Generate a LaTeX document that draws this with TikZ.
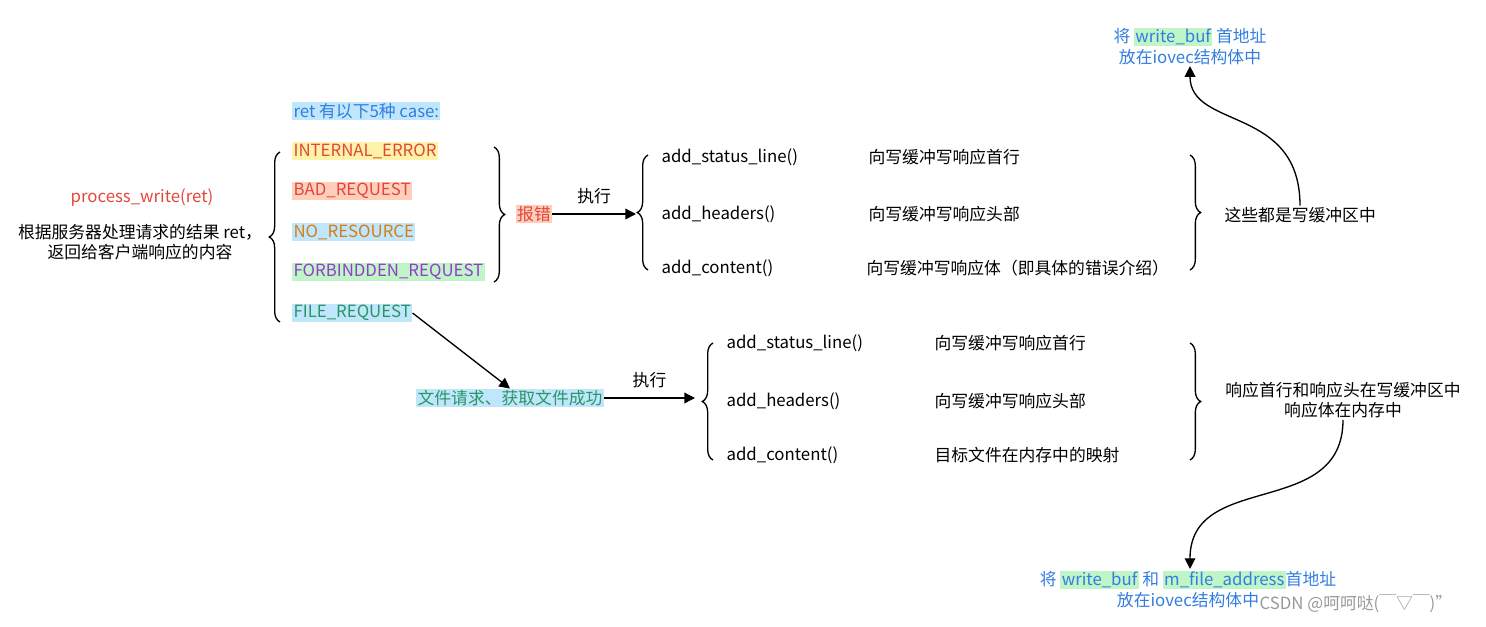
\documentclass[tikz,border=0pt]{standalone}
\usepackage{fontspec}
\setmainfont{Noto Sans CJK SC}
\usetikzlibrary{positioning}
\usetikzlibrary{arrows.meta}
\usetikzlibrary{decorations.pathreplacing}
\definecolor{tred}{RGB}{226,70,60}
\definecolor{tblue}{RGB}{50,125,225}
\definecolor{torange}{RGB}{214,125,20}
\definecolor{tpurple}{RGB}{150,60,205}
\definecolor{tgreen}{RGB}{40,150,100}
\definecolor{hyellow}{RGB}{255,243,170}
\definecolor{hsalmon}{RGB}{255,207,188}
\definecolor{hblue}{RGB}{192,230,252}
\definecolor{hgreen}{RGB}{192,245,200}
\tikzset{basic/.style={font=\fontsize{12.6}{15.5}\selectfont,inner sep=1pt}}
\tikzset{tag/.style={basic,anchor=west}}
\tikzset{note/.style={basic,align=center}}
\tikzset{flow/.style={draw,line width=1pt,-{Triangle[length=8pt,width=8pt]}}}
\tikzset{bracket/.style={draw,line width=1pt,decorate,decoration={brace,amplitude=8pt}}}
\newcommand{\hl}[2]{{\setlength{\fboxsep}{1pt}\colorbox{#1}{#2}}}
\begin{document}
\begin{tikzpicture}[x=0.75pt,y=-0.75pt]
                \useasboundingbox (0,0) rectangle (1486,626);
                % left: function and the five cases
                \node[note,text=tred] (func) at (142,198) {process\_write(ret)};
                \node[note] (desc) at (140,242) {根据服务器处理请求的结果 ret，\\返回给客户端响应的内容};
                \node[tag,fill=hblue,text=tblue] (cases) at (292,111) {ret 有以下5种 case:};
                \node[tag,fill=hyellow,text=tred] (c1) at (292,151) {INTERNAL\_ERROR};
                \node[tag,fill=hsalmon,text=tred] (c2) at (292,191) {BAD\_REQUEST};
                \node[tag,fill=hblue,text=torange] (c3) at (292,232) {NO\_RESOURCE};
                \node[tag,fill=hgreen,text=tpurple] (c4) at (292,272) {FORBINDDEN\_REQUEST};
                \node[tag,fill=hblue,text=tgreen] (c5) at (292,313) {FILE\_REQUEST};
                \path[bracket] (280,322) -- (280,152);
                \path[bracket] (494,147) -- (494,282);
                % error branch
                \node[basic,fill=hsalmon,text=tred] (err) at (534,214) {报错};
                \coordinate (e1) at (636,214);
                \path[flow] (err) -- node[basic,above=6pt] (do1) {执行} (e1);
                \path[bracket] (648,270) -- (648,155);
                \node[tag] (s1) at (660,157) {add\_status\_line()};
                \node[tag] (h1) at (660,214) {add\_headers()};
                \node[tag] (b1) at (660,268) {add\_content()};
                \node[tag] (s1d) at (867,157) {向写缓冲写响应首行};
                \node[tag] (h1d) at (867,214) {向写缓冲写响应头部};
                \node[tag] (b1d) at (865,268) {向写缓冲写响应体（即具体的错误介绍）};
                \path[bracket] (1190,155) -- (1190,270);
                \node[tag] (buf1) at (1223,215) {这些都是写缓冲区中};
                \node[note,text=tblue] (top) at (1190,46) {将 \hl{hgreen}{write\_buf} 首地址\\放在iovec结构体中};
                \path[flow] (buf1.north -| 1300,0) .. controls (1300,105) and (1190,130) .. (top.south);
                % file branch
                \node[basic,fill=hblue,text=tgreen] (file) at (510,398) {文件请求、获取文件成功};
                \path[flow] (c5.east) -- (file.north);
                \coordinate (e2) at (695,398);
                \path[flow] (file) -- node[basic,above=6pt] (do2) {执行} (e2);
                \path[bracket] (713,460) -- (713,343);
                \node[tag] (s2) at (725,343) {add\_status\_line()};
                \node[tag] (h2) at (725,401) {add\_headers()};
                \node[tag] (b2) at (725,455) {add\_content()};
                \node[tag] (s2d) at (933,343) {向写缓冲写响应首行};
                \node[tag] (h2d) at (933,401) {向写缓冲写响应头部};
                \node[tag] (b2d) at (933,455) {目标文件在内存中的映射};
                \path[bracket] (1190,343) -- (1190,460);
                \node[note] (buf2) at (1343,400) {响应首行和响应头在写缓冲区中\\响应体在内存中};
                \node[note,text=tblue] (bot) at (1188,589) {将 \hl{hgreen}{write\_buf} 和 \hl{hgreen}{m\_file\_address}首地址\\放在iovec结构体中};
                \path[flow] (buf2.south) .. controls (1343,520) and (1190,470) .. (bot.north -| 1190,0);
                \node[basic,anchor=west,text=black!40] (mark) at (1258,604) {CSDN @呵呵哒(￣▽￣)"};
            \end{tikzpicture}
\end{document}
